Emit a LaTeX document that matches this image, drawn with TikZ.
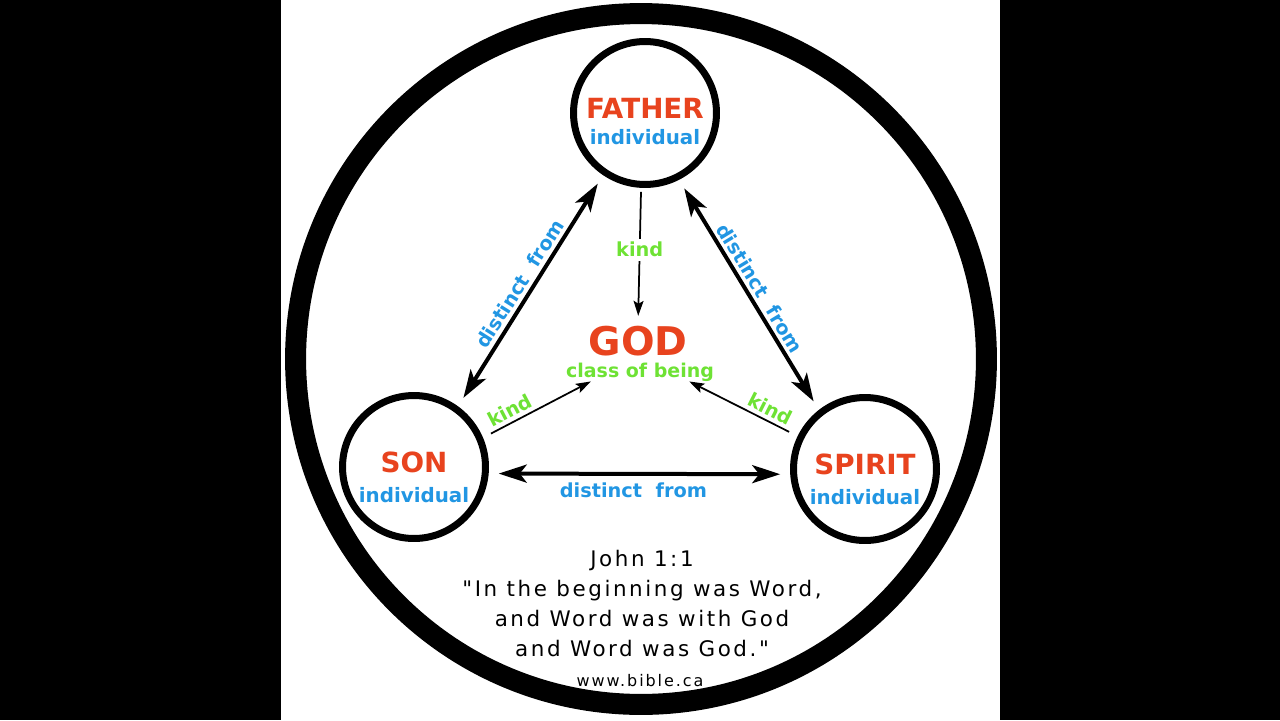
\documentclass[tikz,border=0pt]{standalone}
\usepackage{fontspec}
\setmainfont{DejaVu Sans}
\newfontfamily\versefont[LetterSpace=12]{DejaVu Sans}
\usepackage{tikz}
\usetikzlibrary{arrows.meta, positioning, calc}
\definecolor{namered}{HTML}{E8431E}
\definecolor{tagblue}{HTML}{2196E3}
\definecolor{kindgreen}{HTML}{6EE234}

\begin{document}
\begin{tikzpicture}[
      x=0.02cm, y=-0.02cm,
      person/.style={circle, draw, line width=0.14cm, minimum size=2.86cm, inner sep=0pt},
      who/.style={font=\bfseries\fontsize{15.8}{18}\selectfont, text=namered, inner sep=0pt, anchor=base},
      tag/.style={font=\bfseries\fontsize{11.3}{13}\selectfont, text=tagblue, inner sep=0pt, anchor=base},
      kindlabel/.style={font=\bfseries\fontsize{11}{13}\selectfont, text=kindgreen, inner sep=2pt},
      distinctlabel/.style={font=\bfseries\fontsize{11}{13}\selectfont, text=tagblue, inner sep=2pt},
      distinctarrow/.style={line width=0.08cm,
        arrows={Stealth[length=0.56cm, width=0.36cm, inset=0.14cm]-Stealth[length=0.56cm, width=0.36cm, inset=0.14cm]},
        shorten <=0.2cm, shorten >=0.2cm},
      kindarrow/.style={line width=0.035cm, -{Stealth[length=0.3cm, width=0.2cm, inset=0.06cm]}}
    ]
      \useasboundingbox (0,0) rectangle (1280,720);
      \fill[black] (0,0) rectangle (1280,720);
      \fill[white] (281,0) rectangle (1000,720);
      \draw[line width=0.42cm] (641,359) circle [radius=6.91cm];

      % the three persons
      \node[person] (father) at (645,113) {};
      \node[person] (son) at (414,467) {};
      \node[person] (spirit) at (865,469) {};
      \node[who] (fathername) at ($(father)+(0,5)$) {FATHER};
      \node[tag] (fathertag) at ($(father)+(0,31)$) {individual};
      \node[who] (sonname) at ($(son)+(0,5)$) {SON};
      \node[tag] (sontag) at ($(son)+(0,35)$) {individual};
      \node[who] (spiritname) at ($(spirit)+(0,5)$) {SPIRIT};
      \node[tag] (spirittag) at ($(spirit)+(0,35)$) {individual};

      % god in the middle
      \node[font=\bfseries\fontsize{22.5}{26}\selectfont, text=namered, inner sep=0pt, anchor=base] (god) at (638,355) {GOD};
      \node[font=\bfseries\fontsize{10.8}{12}\selectfont, text=kindgreen, inner sep=0pt, anchor=base] (cls) at (640,377) {class of being};

      \draw[distinctarrow] (son.54) -- node[distinctlabel, midway, sloped, above] {distinct~ from} (father.236);
      \draw[distinctarrow] (father.297) -- node[distinctlabel, midway, sloped, above] {distinct~ from} (spirit.128);
      \draw[distinctarrow] (son.355) -- node[distinctlabel, pos=0.48, below=2pt] {distinct~ from} (spirit.184);

      \draw[kindarrow, shorten <=0.08cm, shorten >=0.19cm] (father.267) -- node[kindlabel, fill=white, pos=0.45] {kind} (god.north);
      \draw[kindarrow, shorten <=0.18cm] (son.23) -- node[kindlabel, pos=0.3, sloped, above] {kind} ([xshift=0.5cm]cls.south west);
      \draw[kindarrow, shorten <=0.19cm] (spirit.154) -- node[kindlabel, pos=0.3, sloped, above] {kind} ([xshift=-0.5cm]cls.south east);

      \node[font=\versefont\fontsize{12.2}{17.1}\selectfont, align=center, inner sep=0pt, anchor=north] (verse) at (642,550)
        {John 1:1\\"In the beginning was Word,\\and Word was with God\\and Word was God."};
      \node[font=\versefont\fontsize{9.1}{11}\selectfont, inner sep=0pt, anchor=base] (web) at (640,686) {www.bible.ca};
    \end{tikzpicture}
\end{document}
